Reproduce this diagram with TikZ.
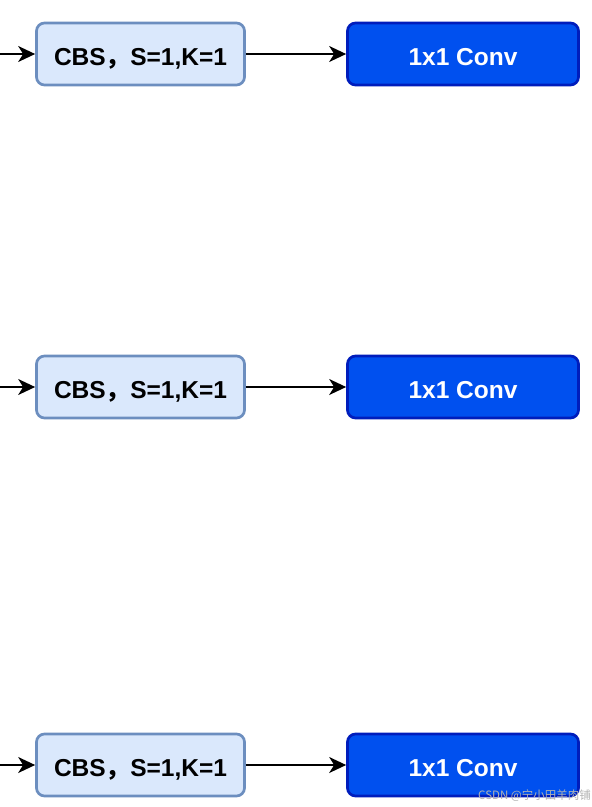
\documentclass[tikz,border=0pt]{standalone}
\usepackage{fontspec}
\setmainfont{Liberation Sans}
\newfontfamily\cjk{Noto Sans CJK SC}
\usetikzlibrary{arrows.meta}
\definecolor{cbsfill}{HTML}{DAE8FC}
\definecolor{cbsline}{HTML}{6C8EBF}
\definecolor{convfill}{HTML}{0050EF}
\definecolor{convline}{HTML}{001DBC}
\begin{document}
\begin{tikzpicture}[x=1pt, y=-1pt]
	\tikzstyle{CBSNode} = [rectangle, rounded corners=8pt, minimum width=208pt, minimum height=62pt, text height=22pt, text depth=0pt, text centered, line width=2.7pt, draw=cbsline, fill=cbsfill, font=\fontsize{24.5}{29}\selectfont\bfseries]
	\tikzstyle{ConvNode} = [rectangle, rounded corners=8pt, minimum width=231pt, minimum height=62pt, text height=22pt, text depth=0pt, text centered, line width=2.7pt, draw=convline, fill=convfill, text=white, font=\fontsize{24.5}{29}\selectfont\bfseries]
	\tikzstyle{arrow} = [line width=1.5pt, -{Stealth[length=17pt, width=16pt, inset=5pt]}]
	
	\useasboundingbox (0, 0) rectangle (592, 807);
	
	\coordinate (in1) at (0, 54);
	\node (cbs1) [CBSNode] at (140.5, 54) {CBS{\cjk ，}S=1,K=1};
	\node (conv1) [ConvNode] at (463, 54) {1x1 Conv};
	\draw [arrow] (in1) -- (cbs1);
	\draw [arrow] (cbs1) -- (conv1);
	
	\coordinate (in2) at (0, 387);
	\node (cbs2) [CBSNode] at (140.5, 387) {CBS{\cjk ，}S=1,K=1};
	\node (conv2) [ConvNode] at (463, 387) {1x1 Conv};
	\draw [arrow] (in2) -- (cbs2);
	\draw [arrow] (cbs2) -- (conv2);
	
	\coordinate (in3) at (0, 765);
	\node (cbs3) [CBSNode] at (140.5, 765) {CBS{\cjk ，}S=1,K=1};
	\node (conv3) [ConvNode] at (463, 765) {1x1 Conv};
	\draw [arrow] (in3) -- (cbs3);
	\draw [arrow] (cbs3) -- (conv3);
	
	\node (mark) [anchor=east, inner sep=0pt, text=gray!60, font=\fontsize{11.5}{13}\selectfont] at (591, 796) {{\cjk CSDN @宁小田羊肉铺}};
\end{tikzpicture}
\end{document}
